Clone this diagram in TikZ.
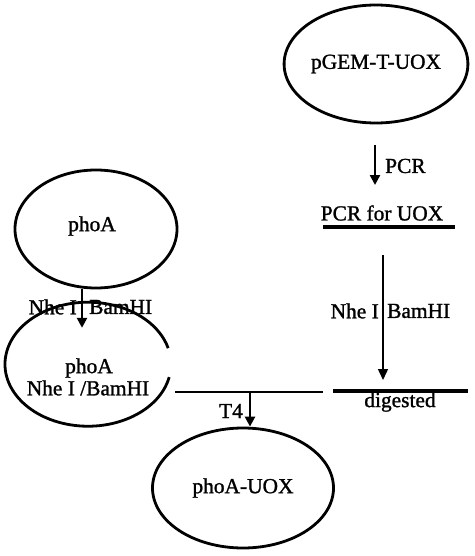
\documentclass[tikz,border=0pt]{standalone}
\usepackage{fontspec}
\setmainfont[FakeBold=1.2]{Liberation Serif}
\usetikzlibrary{shapes.geometric,arrows.meta}
\begin{document}
\begin{tikzpicture}[x=1pt,y=-1pt,
  every node/.style={font=\fontsize{21.4}{24}\selectfont, inner sep=0pt},
  plasmid/.style={ellipse, draw, line width=2.8pt, inner sep=0pt},
  flow/.style={line width=2.4pt, -{Triangle[width=10pt,length=10pt]}},
  thinflow/.style={line width=1.4pt, -{Triangle[width=10pt,length=11pt]}},
  fragment/.style={line width=3.4pt},
  thinline/.style={line width=1.6pt},
  lbl/.style={}]
\useasboundingbox (0,0) rectangle (474,556);
% top plasmid
\node[plasmid, minimum width=178pt, minimum height=118pt] (pgem) at (376,64) {pGEM-T-UOX};
\coordinate (pcrA) at (375,145);
\coordinate (pcrB) at (375,185);
\draw[flow] (pcrA) -- (pcrB);
\node[lbl, anchor=west] (pcrlbl) at (385,166) {PCR};
\node[lbl] (pcrfor) at (382,213) {PCR for UOX};
\coordinate (pcrL) at (323,227);
\coordinate (pcrR) at (455,227);
\draw[fragment] (pcrL) -- (pcrR);
% digestion arrow right
\coordinate (digA) at (383,255);
\coordinate (digB) at (383,380);
\draw[thinflow] (digA) -- (digB);
\node[lbl, anchor=east] (nheR) at (379,311) {Nhe I};
\node[lbl, anchor=west] (bamR) at (387,311) {BamHI};
% phoA
\node[plasmid, minimum width=162pt, minimum height=118pt] (phoa) at (96,229) {};
\node[lbl] (phoatxt) at (92,226) {phoA};
\node[ellipse, minimum width=166pt, minimum height=124pt] (phoacut) at (88,390) {};
\draw[line width=2.8pt] (phoacut.center) ++(12:83pt and 62pt) coordinate (gapT)
  arc[start angle=-12, end angle=-345, x radius=83pt, y radius=62pt];
\coordinate (arrx) at (82,0);
\draw[flow] (phoa.south -| arrx) -- (phoacut.north -| arrx);
\node[lbl, anchor=east] (nheL) at (77,307) {Nhe I};
\node[lbl, anchor=west] (bamL) at (89,307) {BamHI};
\node[lbl] (cut1) at (89,368) {phoA};
\node[lbl] (cut2) at (88,388) {Nhe I /BamHI};
% ligation
\coordinate (ligL) at (175,392);
\coordinate (ligR) at (323,392);
\draw[thinline] (ligL) -- (ligR);
\coordinate (digL) at (333,391);
\coordinate (digR) at (468,391);
\draw[fragment] (digL) -- (digR);
\node[lbl] (digtxt) at (400,402) {digested};
\node[plasmid, minimum width=181pt, minimum height=120pt] (final) at (243,488) {phoA-UOX};
\coordinate (t4A) at (250,392);
\draw[flow] (t4A) -- (final.north -| t4A);
\node[lbl] (t4) at (231,411) {T4};
\end{tikzpicture}
\end{document}
